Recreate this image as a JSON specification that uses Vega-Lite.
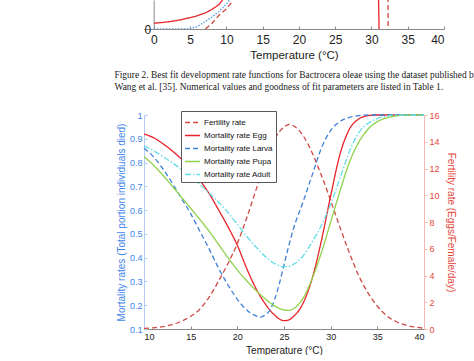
{
  "$schema": "https://vega.github.io/schema/vega-lite/v6.json",
  "background": "white",
  "padding": {"left": 114, "top": 0, "right": 0, "bottom": 0},
  "spacing": 9,
  "config": {
    "view": {"stroke": null},
    "font": "Liberation Sans",
    "axis": {"grid": false, "labelFont": "Liberation Sans", "titleFont": "Liberation Sans", "titleFontWeight": "normal"},
    "legend": {
      "orient": "none", "legendX": 37, "legendY": -4, "title": null,
      "fillColor": "white", "strokeColor": "#5a5a5a", "padding": 3,
      "labelFontSize": 8, "labelColor": "#111", "labelOffset": 3,
      "symbolType": "stroke", "symbolSize": 225, "symbolStrokeWidth": 1.3, "rowPadding": 0
    }
  },
  "resolve": {"scale": {"color": "independent", "strokeDash": "independent"}, "legend": {"color": "independent", "strokeDash": "independent"}},
  "vconcat": [
    {
      "width": 300,
      "height": 29,
      "data": {"values": [
        {"T": 0, "v": 5.7, "s": "c1"}, {"T": 1, "v": 6.4, "s": "c1"}, {"T": 2, "v": 7.2, "s": "c1"}, {"T": 3, "v": 8.3, "s": "c1"}, {"T": 4, "v": 9.7, "s": "c1"}, {"T": 5, "v": 11.4, "s": "c1"}, {"T": 6, "v": 13.3, "s": "c1"}, {"T": 7, "v": 15.8, "s": "c1"}, {"T": 8, "v": 19.5, "s": "c1"}, {"T": 9, "v": 24.6, "s": "c1"}, {"T": 9.5, "v": 29.5, "s": "c1"}, {"T": 10, "v": 35, "s": "c1"},
        {"T": 30.95, "v": 40, "s": "c1b"}, {"T": 31.05, "v": 0, "s": "c1b"},
        {"T": 0, "v": 0, "s": "c2"}, {"T": 4.6, "v": 0, "s": "c2"}, {"T": 5, "v": 0.3, "s": "c2"}, {"T": 6, "v": 2.5, "s": "c2"}, {"T": 7, "v": 7, "s": "c2"}, {"T": 8, "v": 12, "s": "c2"}, {"T": 9, "v": 17.5, "s": "c2"}, {"T": 10, "v": 25, "s": "c2"}, {"T": 10.5, "v": 30, "s": "c2"}, {"T": 11, "v": 36, "s": "c2"},
        {"T": 7.1, "v": 0, "s": "c3"}, {"T": 8, "v": 5.5, "s": "c3"}, {"T": 9, "v": 14, "s": "c3"}, {"T": 10, "v": 20, "s": "c3"}, {"T": 10.6, "v": 25.7, "s": "c3"}, {"T": 11, "v": 31, "s": "c3"},
        {"T": 32.28, "v": 40, "s": "c3b"}, {"T": 32.3, "v": 0, "s": "c3b"}
      ]},
      "mark": {"type": "line", "clip": true, "strokeWidth": 1.3},
      "encoding": {
        "x": {"field": "T", "type": "quantitative", "scale": {"domain": [-1.36, 40], "nice": false},
          "axis": {"values": [0, 5, 10, 15, 20, 25, 30, 35, 40], "labelOverlap": false, "domain": true, "domainColor": "#8a8a8a", "tickSize": -3, "tickColor": "#8a8a8a", "labelFontSize": 12, "labelColor": "#222", "labelPadding": 8, "title": "Temperature (°C)", "titleFontSize": 11.5, "titleColor": "#222", "titlePadding": 4}},
        "y": {"field": "v", "type": "quantitative", "scale": {"domain": [0, 29], "nice": false},
          "axis": {"values": [0], "offset": -9.7, "domainColor": "#8a8a8a", "ticks": false, "labelFontSize": 12, "labelColor": "#222", "labelPadding": 3, "title": null}},
        "color": {"field": "s", "type": "nominal", "legend": null,
          "scale": {"domain": ["c1", "c1b", "c2", "c3", "c3b"], "range": ["#e8262b", "#e8262b", "#4f9be8", "#d0453f", "#d0453f"]}},
        "strokeDash": {"field": "s", "type": "nominal", "legend": null,
          "scale": {"domain": ["c1", "c1b", "c2", "c3", "c3b"], "range": [[1, 0], [1, 0], [1.5, 1.5], [5, 3], [5, 3]]}}
      }
    },
    {
      "width": 280,
      "height": 214,
      "title": {
        "text": ["Figure 2.  Best fit development rate functions for Bactrocera oleae using the dataset published by", "Wang et al. [35]. Numerical values and goodness of fit parameters are listed in Table 1."],
        "font": "Liberation Serif",
        "fontSize": 9.45,
        "fontWeight": "normal",
        "color": "#222",
        "anchor": "start",
        "frame": "bounds",
        "dx": -2,
        "lineHeight": 12,
        "limit": 2000,
        "offset": 18
      },
      "layer": [
        {
          "data": {"values": [
            {"T": 10, "f": 0.05, "series": "Fertility rate"}, {"T": 11, "f": 0.09, "series": "Fertility rate"}, {"T": 12, "f": 0.17, "series": "Fertility rate"}, {"T": 13, "f": 0.33, "series": "Fertility rate"}, {"T": 14, "f": 0.58, "series": "Fertility rate"}, {"T": 15, "f": 0.95, "series": "Fertility rate"}, {"T": 16, "f": 1.5, "series": "Fertility rate"}, {"T": 17, "f": 2.4, "series": "Fertility rate"}, {"T": 18, "f": 3.6, "series": "Fertility rate"}, {"T": 19, "f": 4.9, "series": "Fertility rate"}, {"T": 20, "f": 6.4, "series": "Fertility rate"}, {"T": 21, "f": 8.3, "series": "Fertility rate"}, {"T": 22, "f": 10.4, "series": "Fertility rate"}, {"T": 23, "f": 12.5, "series": "Fertility rate"}, {"T": 24, "f": 14.2, "series": "Fertility rate"}, {"T": 25, "f": 15.1, "series": "Fertility rate"}, {"T": 25.6, "f": 15.3, "series": "Fertility rate"}, {"T": 26, "f": 15.2, "series": "Fertility rate"}, {"T": 27, "f": 14.5, "series": "Fertility rate"}, {"T": 28, "f": 13.2, "series": "Fertility rate"}, {"T": 29, "f": 11.5, "series": "Fertility rate"}, {"T": 30, "f": 9.6, "series": "Fertility rate"}, {"T": 31, "f": 7.6, "series": "Fertility rate"}, {"T": 32, "f": 5.7, "series": "Fertility rate"}, {"T": 33, "f": 4.0, "series": "Fertility rate"}, {"T": 34, "f": 2.7, "series": "Fertility rate"}, {"T": 35, "f": 1.7, "series": "Fertility rate"}, {"T": 36, "f": 1.0, "series": "Fertility rate"}, {"T": 37, "f": 0.56, "series": "Fertility rate"}, {"T": 38, "f": 0.3, "series": "Fertility rate"}, {"T": 39, "f": 0.15, "series": "Fertility rate"}, {"T": 40, "f": 0.06, "series": "Fertility rate"}
          ]},
          "mark": {"type": "line", "interpolate": "monotone", "strokeWidth": 1.3},
          "encoding": {
            "x": {"field": "T", "type": "quantitative", "scale": {"domain": [10, 40], "nice": false},
              "axis": {"values": [10, 15, 20, 25, 30, 35, 40], "domainColor": "#8a8a8a", "tickColor": "#8a8a8a", "tickSize": -3, "labelFontSize": 9, "labelColor": "#222", "labelPadding": 6, "title": "Temperature (°C)", "titleFontSize": 10, "titleColor": "#222", "titlePadding": 4}},
            "y": {"field": "f", "type": "quantitative", "scale": {"domain": [0, 16], "nice": false},
              "axis": {"orient": "right", "values": [0, 2, 4, 6, 8, 10, 12, 14, 16], "domainColor": "#f6b8b4", "tickColor": "#f6b8b4", "tickSize": 3, "labelFontSize": 9, "labelColor": "#e4473a", "labelPadding": 2, "title": "Fertility rate (Eggs/Female/day)", "titleFontSize": 10, "titleColor": "#e4473a", "titlePadding": 6}},
            "color": {"field": "series", "type": "nominal",
              "scale": {"domain": ["Fertility rate", "Mortality rate Egg", "Mortality rate Larva", "Mortality rate Pupa", "Mortality rate Adult"], "range": ["#cf4a45", "#e8232a", "#3f80d9", "#8fd24c", "#62dde8"]}},
            "strokeDash": {"field": "series", "type": "nominal",
              "scale": {"domain": ["Fertility rate", "Mortality rate Egg", "Mortality rate Larva", "Mortality rate Pupa", "Mortality rate Adult"], "range": [[5, 3], [1, 0], [5, 3], [1, 0], [6, 2, 1.5, 2]]}}
          }
        },
        {
          "data": {"values": [
            {"T": 10, "m": 0.92, "series": "Mortality rate Egg"}, {"T": 11, "m": 0.905, "series": "Mortality rate Egg"}, {"T": 12, "m": 0.88, "series": "Mortality rate Egg"}, {"T": 13, "m": 0.85, "series": "Mortality rate Egg"}, {"T": 14, "m": 0.815, "series": "Mortality rate Egg"}, {"T": 15, "m": 0.775, "series": "Mortality rate Egg"}, {"T": 16, "m": 0.725, "series": "Mortality rate Egg"}, {"T": 17, "m": 0.668, "series": "Mortality rate Egg"}, {"T": 18, "m": 0.6, "series": "Mortality rate Egg"}, {"T": 19, "m": 0.53, "series": "Mortality rate Egg"}, {"T": 20, "m": 0.452, "series": "Mortality rate Egg"}, {"T": 21, "m": 0.355, "series": "Mortality rate Egg"}, {"T": 22, "m": 0.27, "series": "Mortality rate Egg"}, {"T": 23, "m": 0.205, "series": "Mortality rate Egg"}, {"T": 24, "m": 0.158, "series": "Mortality rate Egg"}, {"T": 25, "m": 0.135, "series": "Mortality rate Egg"}, {"T": 25.5, "m": 0.138, "series": "Mortality rate Egg"}, {"T": 26, "m": 0.152, "series": "Mortality rate Egg"}, {"T": 27, "m": 0.205, "series": "Mortality rate Egg"}, {"T": 28, "m": 0.31, "series": "Mortality rate Egg"}, {"T": 29, "m": 0.47, "series": "Mortality rate Egg"}, {"T": 30, "m": 0.66, "series": "Mortality rate Egg"}, {"T": 31, "m": 0.835, "series": "Mortality rate Egg"}, {"T": 32, "m": 0.94, "series": "Mortality rate Egg"}, {"T": 33, "m": 0.983, "series": "Mortality rate Egg"}, {"T": 34, "m": 0.997, "series": "Mortality rate Egg"}, {"T": 35, "m": 1, "series": "Mortality rate Egg"}, {"T": 40, "m": 1, "series": "Mortality rate Egg"},
            {"T": 10, "m": 0.86, "series": "Mortality rate Larva"}, {"T": 11, "m": 0.825, "series": "Mortality rate Larva"}, {"T": 12, "m": 0.775, "series": "Mortality rate Larva"}, {"T": 13, "m": 0.715, "series": "Mortality rate Larva"}, {"T": 14, "m": 0.65, "series": "Mortality rate Larva"}, {"T": 15, "m": 0.585, "series": "Mortality rate Larva"}, {"T": 16, "m": 0.51, "series": "Mortality rate Larva"}, {"T": 17, "m": 0.435, "series": "Mortality rate Larva"}, {"T": 18, "m": 0.355, "series": "Mortality rate Larva"}, {"T": 19, "m": 0.285, "series": "Mortality rate Larva"}, {"T": 20, "m": 0.225, "series": "Mortality rate Larva"}, {"T": 21, "m": 0.18, "series": "Mortality rate Larva"}, {"T": 22, "m": 0.155, "series": "Mortality rate Larva"}, {"T": 22.5, "m": 0.15, "series": "Mortality rate Larva"}, {"T": 23, "m": 0.16, "series": "Mortality rate Larva"}, {"T": 23.5, "m": 0.18, "series": "Mortality rate Larva"}, {"T": 24, "m": 0.225, "series": "Mortality rate Larva"}, {"T": 24.5, "m": 0.29, "series": "Mortality rate Larva"}, {"T": 25, "m": 0.37, "series": "Mortality rate Larva"}, {"T": 26, "m": 0.52, "series": "Mortality rate Larva"}, {"T": 27, "m": 0.63, "series": "Mortality rate Larva"}, {"T": 28, "m": 0.745, "series": "Mortality rate Larva"}, {"T": 29, "m": 0.86, "series": "Mortality rate Larva"}, {"T": 30, "m": 0.935, "series": "Mortality rate Larva"}, {"T": 31, "m": 0.972, "series": "Mortality rate Larva"}, {"T": 32, "m": 0.99, "series": "Mortality rate Larva"}, {"T": 33, "m": 0.997, "series": "Mortality rate Larva"}, {"T": 34, "m": 1, "series": "Mortality rate Larva"}, {"T": 40, "m": 1, "series": "Mortality rate Larva"},
            {"T": 10, "m": 0.825, "series": "Mortality rate Pupa"}, {"T": 11, "m": 0.79, "series": "Mortality rate Pupa"}, {"T": 12, "m": 0.748, "series": "Mortality rate Pupa"}, {"T": 13, "m": 0.702, "series": "Mortality rate Pupa"}, {"T": 14, "m": 0.655, "series": "Mortality rate Pupa"}, {"T": 15, "m": 0.608, "series": "Mortality rate Pupa"}, {"T": 16, "m": 0.56, "series": "Mortality rate Pupa"}, {"T": 17, "m": 0.51, "series": "Mortality rate Pupa"}, {"T": 18, "m": 0.455, "series": "Mortality rate Pupa"}, {"T": 19, "m": 0.4, "series": "Mortality rate Pupa"}, {"T": 20, "m": 0.348, "series": "Mortality rate Pupa"}, {"T": 21, "m": 0.303, "series": "Mortality rate Pupa"}, {"T": 22, "m": 0.262, "series": "Mortality rate Pupa"}, {"T": 23, "m": 0.227, "series": "Mortality rate Pupa"}, {"T": 24, "m": 0.197, "series": "Mortality rate Pupa"}, {"T": 25, "m": 0.18, "series": "Mortality rate Pupa"}, {"T": 25.5, "m": 0.178, "series": "Mortality rate Pupa"}, {"T": 26, "m": 0.185, "series": "Mortality rate Pupa"}, {"T": 27, "m": 0.227, "series": "Mortality rate Pupa"}, {"T": 28, "m": 0.31, "series": "Mortality rate Pupa"}, {"T": 29, "m": 0.42, "series": "Mortality rate Pupa"}, {"T": 30, "m": 0.55, "series": "Mortality rate Pupa"}, {"T": 31, "m": 0.68, "series": "Mortality rate Pupa"}, {"T": 32, "m": 0.8, "series": "Mortality rate Pupa"}, {"T": 33, "m": 0.885, "series": "Mortality rate Pupa"}, {"T": 34, "m": 0.94, "series": "Mortality rate Pupa"}, {"T": 35, "m": 0.972, "series": "Mortality rate Pupa"}, {"T": 36, "m": 0.988, "series": "Mortality rate Pupa"}, {"T": 37, "m": 0.996, "series": "Mortality rate Pupa"}, {"T": 38, "m": 1, "series": "Mortality rate Pupa"}, {"T": 40, "m": 1, "series": "Mortality rate Pupa"},
            {"T": 10, "m": 0.87, "series": "Mortality rate Adult"}, {"T": 11, "m": 0.85, "series": "Mortality rate Adult"}, {"T": 12, "m": 0.826, "series": "Mortality rate Adult"}, {"T": 13, "m": 0.8, "series": "Mortality rate Adult"}, {"T": 14, "m": 0.772, "series": "Mortality rate Adult"}, {"T": 15, "m": 0.741, "series": "Mortality rate Adult"}, {"T": 16, "m": 0.707, "series": "Mortality rate Adult"}, {"T": 17, "m": 0.671, "series": "Mortality rate Adult"}, {"T": 18, "m": 0.633, "series": "Mortality rate Adult"}, {"T": 19, "m": 0.59, "series": "Mortality rate Adult"}, {"T": 20, "m": 0.54, "series": "Mortality rate Adult"}, {"T": 21, "m": 0.49, "series": "Mortality rate Adult"}, {"T": 22, "m": 0.445, "series": "Mortality rate Adult"}, {"T": 23, "m": 0.405, "series": "Mortality rate Adult"}, {"T": 24, "m": 0.375, "series": "Mortality rate Adult"}, {"T": 25, "m": 0.362, "series": "Mortality rate Adult"}, {"T": 25.5, "m": 0.363, "series": "Mortality rate Adult"}, {"T": 26, "m": 0.372, "series": "Mortality rate Adult"}, {"T": 27, "m": 0.405, "series": "Mortality rate Adult"}, {"T": 28, "m": 0.465, "series": "Mortality rate Adult"}, {"T": 29, "m": 0.535, "series": "Mortality rate Adult"}, {"T": 30, "m": 0.625, "series": "Mortality rate Adult"}, {"T": 31, "m": 0.735, "series": "Mortality rate Adult"}, {"T": 32, "m": 0.845, "series": "Mortality rate Adult"}, {"T": 33, "m": 0.925, "series": "Mortality rate Adult"}, {"T": 34, "m": 0.965, "series": "Mortality rate Adult"}, {"T": 35, "m": 0.985, "series": "Mortality rate Adult"}, {"T": 36, "m": 0.995, "series": "Mortality rate Adult"}, {"T": 37, "m": 1, "series": "Mortality rate Adult"}, {"T": 40, "m": 1, "series": "Mortality rate Adult"}
          ]},
          "mark": {"type": "line", "interpolate": "monotone", "strokeWidth": 1.3},
          "encoding": {
            "x": {"field": "T", "type": "quantitative", "scale": {"domain": [10, 40], "nice": false}},
            "y": {"field": "m", "type": "quantitative", "scale": {"domain": [0.1, 1], "nice": false},
              "axis": {"orient": "left", "values": [0.1, 0.2, 0.3, 0.4, 0.5, 0.6, 0.7, 0.8, 0.9, 1], "format": ".1~f", "domainColor": "#b3cdf2", "tickColor": "#b3cdf2", "tickSize": -3, "labelFontSize": 9, "labelColor": "#3f86ea", "labelPadding": 5, "title": "Mortality rates (Total portion individuals died)", "titleFontSize": 10, "titleColor": "#3f86ea", "titlePadding": 3}},
            "color": {"field": "series", "type": "nominal",
              "scale": {"domain": ["Fertility rate", "Mortality rate Egg", "Mortality rate Larva", "Mortality rate Pupa", "Mortality rate Adult"], "range": ["#cf4a45", "#e8232a", "#3f80d9", "#8fd24c", "#62dde8"]}},
            "strokeDash": {"field": "series", "type": "nominal",
              "scale": {"domain": ["Fertility rate", "Mortality rate Egg", "Mortality rate Larva", "Mortality rate Pupa", "Mortality rate Adult"], "range": [[5, 3], [1, 0], [5, 3], [1, 0], [6, 2, 1.5, 2]]}}
          }
        }
      ],
      "encoding": {},
      "resolve": {"scale": {"y": "independent"}}
    }
  ]
}
